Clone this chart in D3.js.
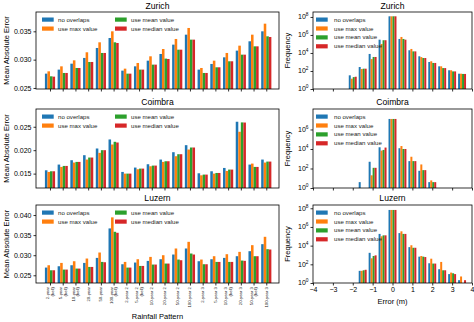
<!DOCTYPE html>
<html><head><meta charset="utf-8">
<script src="https://cdn.jsdelivr.net/npm/d3@7"></script>
<style>body{margin:0;background:#fff} svg{display:block;font-family:"Liberation Sans",Arial,sans-serif}</style>
</head><body><svg id="c" width="474" height="322"></svg>
<script>
// ---------------- DATA ----------------
const categories = [
  "2-year|(bell)","5-year|(bell)","10-year|(bell)","20-year","50-year","100-year|(bell)",
  "2-year 2","5-year 2|(bell)","10-year 2","20-year 2","50-year 2","100-year 2",
  "2-year 3","5-year 3","10-year 3|(bell)","20-year 3","50-year 3|(bell)","100-year 3"];
const seriesNames = ["no overlaps","use max value","use mean value","use median value"];
const seriesColors = ["#1f77b4","#ff7f0e","#2ca02c","#d62728"];

// Mean absolute error, one array per series: [no overlaps, max, mean, median]
const zurichMAE = [
  [0.02753,0.02824,0.02929,0.03030,0.03206,0.03382,0.02806,0.02882,0.02982,0.03100,0.03265,0.03441,0.02824,0.02924,0.03041,0.03159,0.03324,0.03500],
  [0.02794,0.02882,0.02988,0.03130,0.03306,0.03500,0.02841,0.02941,0.03059,0.03188,0.03365,0.03559,0.02853,0.02982,0.03118,0.03247,0.03441,0.03635],
  [0.02706,0.02765,0.02853,0.02959,0.03118,0.03306,0.02753,0.02824,0.02912,0.03018,0.03176,0.03353,0.02765,0.02865,0.02971,0.03088,0.03235,0.03412],
  [0.02700,0.02765,0.02853,0.02959,0.03118,0.03294,0.02753,0.02824,0.02912,0.03012,0.03176,0.03353,0.02765,0.02865,0.02971,0.03088,0.03235,0.03400]];
const coimbraMAE = [
  [0.01571,0.01693,0.01786,0.01893,0.02036,0.02229,0.01536,0.01629,0.01700,0.01800,0.01957,0.02107,0.01507,0.01550,0.01621,0.02607,0.01693,0.01800],
  [0.01536,0.01643,0.01736,0.01800,0.01943,0.02121,0.01500,0.01593,0.01657,0.01750,0.01871,0.02014,0.01464,0.01500,0.01557,0.02393,0.01714,0.01736],
  [0.01550,0.01664,0.01750,0.01843,0.02000,0.02179,0.01500,0.01607,0.01671,0.01764,0.01914,0.02057,0.01479,0.01514,0.01586,0.02593,0.01643,0.01757],
  [0.01550,0.01664,0.01750,0.01843,0.02000,0.02164,0.01500,0.01607,0.01671,0.01764,0.01914,0.02057,0.01479,0.01514,0.01586,0.02590,0.01643,0.01757]];
const luzernMAE = [
  [0.02692,0.02725,0.02750,0.02808,0.02933,0.03667,0.02775,0.02817,0.02858,0.02900,0.03017,0.03167,0.02850,0.02900,0.02933,0.02975,0.03100,0.03275],
  [0.02750,0.02808,0.02850,0.02917,0.03067,0.03942,0.02833,0.02900,0.02958,0.03000,0.03167,0.03333,0.02892,0.02975,0.03025,0.03083,0.03250,0.03458],
  [0.02625,0.02642,0.02667,0.02708,0.02833,0.03583,0.02692,0.02733,0.02767,0.02792,0.02892,0.03042,0.02775,0.02833,0.02833,0.02867,0.02975,0.03150],
  [0.02625,0.02642,0.02667,0.02708,0.02825,0.03558,0.02692,0.02733,0.02767,0.02792,0.02875,0.03017,0.02775,0.02833,0.02833,0.02860,0.02975,0.03142]];
const zurichMAETicks = [0.025,0.030,0.035];
const coimbraMAETicks = [0.015,0.020,0.025];
const luzernMAETicks = [0.025,0.030,0.035,0.040];

// Error histograms (bin centres in m, counts per series)
const zurichBins = [-2,-1.5,-1,-0.5,0,0.5,1,1.5,2,2.5,3,3.5];
const zurichCounts = [
  [33,275,7800,300000,118000000,360000,20000,4300,1000,330,120,50],
  [14,165,2100,100000,118000000,600000,28000,3500,1200,330,120,50],
  [21,180,3600,260000,118000000,360000,15000,2750,780,210,90,47],
  [23,180,3600,260000,118000000,300000,15000,2750,780,210,90,47]];
const coimbraBins = [-1.5,-1,-0.5,0,0.5,1,1.5,2];
const coimbraCounts = [
  [4,490,15000,12000000,12000,570,58,4],
  [0,20,6800,12000000,20000,1600,260,6],
  [0,117,8000,12000000,10000,570,68,4],
  [0,117,14000,12000000,10000,570,68,4]];
const luzernBins = [-1.5,-1,-0.5,0,0.5,1,1.5,2,2.5,3,3.5];
const luzernCounts = [
  [20,1700,180000,66000000,220000,6900,660,130,30,9,2],
  [20,440,100000,66000000,340000,11000,780,400,180,13,5],
  [23,780,126000,66000000,180000,5900,660,120,23,11,0],
  [26,910,126000,66000000,180000,5900,600,120,23,9,2]];
const errorTicks = [-4,-3,-2,-1,0,1,2,3,4];
const zurichFreqTicks = [1,1e2,1e4,1e6,1e8];
const coimbraFreqTicks = [1,1e2,1e4,1e6];
const luzernFreqTicks = [1,1e2,1e4,1e6,1e8];

// ---------------- LAYOUT ----------------
const svg = d3.select("#c");
const LX0 = 36, LX1 = 279, RX0 = 313, RX1 = 472;
const rows = [
  {title:"Zurich", top:12, bottom:89, titleY:8.5, mae:zurichMAE, maeDom:[0.02482,0.03841], maeTicks:zurichMAETicks,
   bins:zurichBins, counts:zurichCounts, logTop:8.55, freqTicks:zurichFreqTicks},
  {title:"Coimbra", top:109, bottom:188, titleY:105, mae:coimbraMAE, maeDom:[0.01193,0.02879], maeTicks:coimbraMAETicks,
   bins:coimbraBins, counts:coimbraCounts, logTop:8.1, freqTicks:coimbraFreqTicks},
  {title:"Luzern", top:205, bottom:283, titleY:201, mae:luzernMAE, maeDom:[0.02308,0.0425], maeTicks:luzernMAETicks,
   bins:luzernBins, counts:luzernCounts, logTop:8.35, freqTicks:luzernFreqTicks}];

const FS_TICK = 7, FS_LAB = 7.5, FS_TITLE = 8.6, FS_LEG = 6.1;

function frame(x0,x1,y0,y1){
  svg.append("rect").attr("x",x0).attr("y",y0).attr("width",x1-x0).attr("height",y1-y0)
    .attr("fill","none").attr("stroke","#000").attr("stroke-width",0.8);
}

rows.forEach((r,ri)=>{
  const last = ri===rows.length-1;
  // ---------- left: grouped bars ----------
  const x = d3.scaleLinear().domain([-1.1,18.0]).range([LX0,LX1]);
  const y = d3.scaleLinear().domain(r.maeDom).range([r.bottom,r.top]);
  const gb = svg.append("g");
  r.mae.forEach((vals,si)=>{
    gb.selectAll(null).data(vals).join("rect")
      .attr("x",(d,i)=>x(i-0.4+0.2*si))
      .attr("width",x(0.2)-x(0))
      .attr("y",d=>y(d))
      .attr("height",d=>r.bottom-y(d))
      .attr("fill",seriesColors[si]);
  });
  frame(LX0,LX1,r.top,r.bottom);
  // y axis
  const ya = svg.append("g").attr("transform",`translate(${LX0},0)`)
    .call(d3.axisLeft(y).tickValues(r.maeTicks).tickFormat(d3.format(".3f")).tickSize(2.5).tickPadding(2));
  ya.select(".domain").remove();
  ya.selectAll("line").attr("stroke-width",0.8);
  ya.selectAll("text").attr("font-size",FS_TICK).attr("font-family","Liberation Sans, Arial, sans-serif");
  // x axis ticks
  const xa = svg.append("g").attr("transform",`translate(0,${r.bottom})`)
    .call(d3.axisBottom(x).tickValues(d3.range(categories.length)).tickFormat("").tickSize(2.5));
  xa.select(".domain").remove();
  xa.selectAll("line").attr("stroke-width",0.8);
  if(last){
    categories.forEach((c,i)=>{
      const lines = c.split("|");
      const t = svg.append("text")
        .attr("transform",`translate(${x(i)},${r.bottom+4}) rotate(-90)`)
        .attr("text-anchor","end").attr("font-size",4.3).attr("fill","#222");
      lines.forEach((l,li)=>{
        t.append("tspan").attr("x",0)
          .attr("dy", li===0 ? (0.35-(lines.length-1)*0.55)+"em" : "1.1em").text(l);
      });
    });
    svg.append("text").attr("x",(LX0+LX1)/2).attr("y",319).attr("text-anchor","middle")
      .attr("font-size",FS_LAB).text("Rainfall Pattern");
  }
  svg.append("text").attr("transform",`translate(8.5,${(r.top+r.bottom)/2}) rotate(-90)`)
    .attr("text-anchor","middle").attr("font-size",FS_LAB).text("Mean Absolute Error");
  svg.append("text").attr("x",(LX0+LX1)/2).attr("y",r.titleY).attr("text-anchor","middle")
    .attr("font-size",FS_TITLE).text(r.title);
  // legend (2 columns)
  seriesNames.forEach((n,si)=>{
    const col = Math.floor(si/2), row = si%2;
    const lx = LX0 + 6 + col*73, ly = r.top + 7.5 + row*9;
    svg.append("rect").attr("x",lx).attr("y",ly-2).attr("width",11.7).attr("height",4.2).attr("fill",seriesColors[si]);
    svg.append("text").attr("x",lx+16).attr("y",ly+2.1).attr("font-size",FS_LEG).attr("fill","#222").text(n);
  });

  // ---------- right: histogram ----------
  const hx = d3.scaleLinear().domain([-4,4]).range([RX0,RX1]);
  const hy = d3.scaleLog().domain([1,Math.pow(10,r.logTop)]).range([r.bottom,r.top]);
  const gh = svg.append("g");
  r.counts.forEach((vals,si)=>{
    gh.selectAll(null).data(vals.map((v,i)=>({v,c:r.bins[i]})).filter(d=>d.v>0)).join("rect")
      .attr("x",d=>hx(d.c-0.2+0.1*si))
      .attr("width",hx(0.1)-hx(0))
      .attr("y",d=>hy(Math.max(d.v,1)))
      .attr("height",d=>r.bottom-hy(Math.max(d.v,1)))
      .attr("fill",seriesColors[si]);
  });
  frame(RX0,RX1,r.top,r.bottom);
  const hya = svg.append("g").attr("transform",`translate(${RX0},0)`)
    .call(d3.axisLeft(hy).tickValues(r.freqTicks).tickFormat("").tickSize(2.5));
  hya.select(".domain").remove();
  hya.selectAll("line").attr("stroke-width",0.8);
  r.freqTicks.forEach(t=>{
    const e = Math.round(Math.log10(t));
    const tx = svg.append("text").attr("x",RX0-4.5).attr("y",hy(t)+2.4)
      .attr("text-anchor","end").attr("font-size",FS_TICK);
    tx.append("tspan").text("10");
    tx.append("tspan").attr("dy",-3).attr("font-size",4.8).text(e);
  });
  const hxa = svg.append("g").attr("transform",`translate(0,${r.bottom})`)
    .call(d3.axisBottom(hx).tickValues(errorTicks).tickFormat(last? d=>d3.format("")(d).replace("-","\u2212") : "").tickSize(2.5).tickPadding(1.5));
  hxa.select(".domain").remove();
  hxa.selectAll("line").attr("stroke-width",0.8);
  hxa.selectAll("text").attr("font-size",FS_TICK).attr("font-family","Liberation Sans, Arial, sans-serif");
  svg.append("text").attr("transform",`translate(289.5,${(r.top+r.bottom)/2}) rotate(-90)`)
    .attr("text-anchor","middle").attr("font-size",FS_LAB).text("Frequency");
  svg.append("text").attr("x",(RX0+RX1)/2).attr("y",r.titleY).attr("text-anchor","middle")
    .attr("font-size",FS_TITLE).text(r.title);
  if(last){
    svg.append("text").attr("x",(RX0+RX1)/2).attr("y",304).attr("text-anchor","middle")
      .attr("font-size",FS_LAB).text("Error (m)");
  }
  seriesNames.forEach((n,si)=>{
    const lx = RX0 + 3, ly = r.top + 7.5 + si*8.9;
    svg.append("rect").attr("x",lx).attr("y",ly-2).attr("width",11.7).attr("height",4.2).attr("fill",seriesColors[si]);
    svg.append("text").attr("x",lx+18).attr("y",ly+2.1).attr("font-size",FS_LEG).attr("fill","#222").text(n);
  });
});
</script>
</body></html>
